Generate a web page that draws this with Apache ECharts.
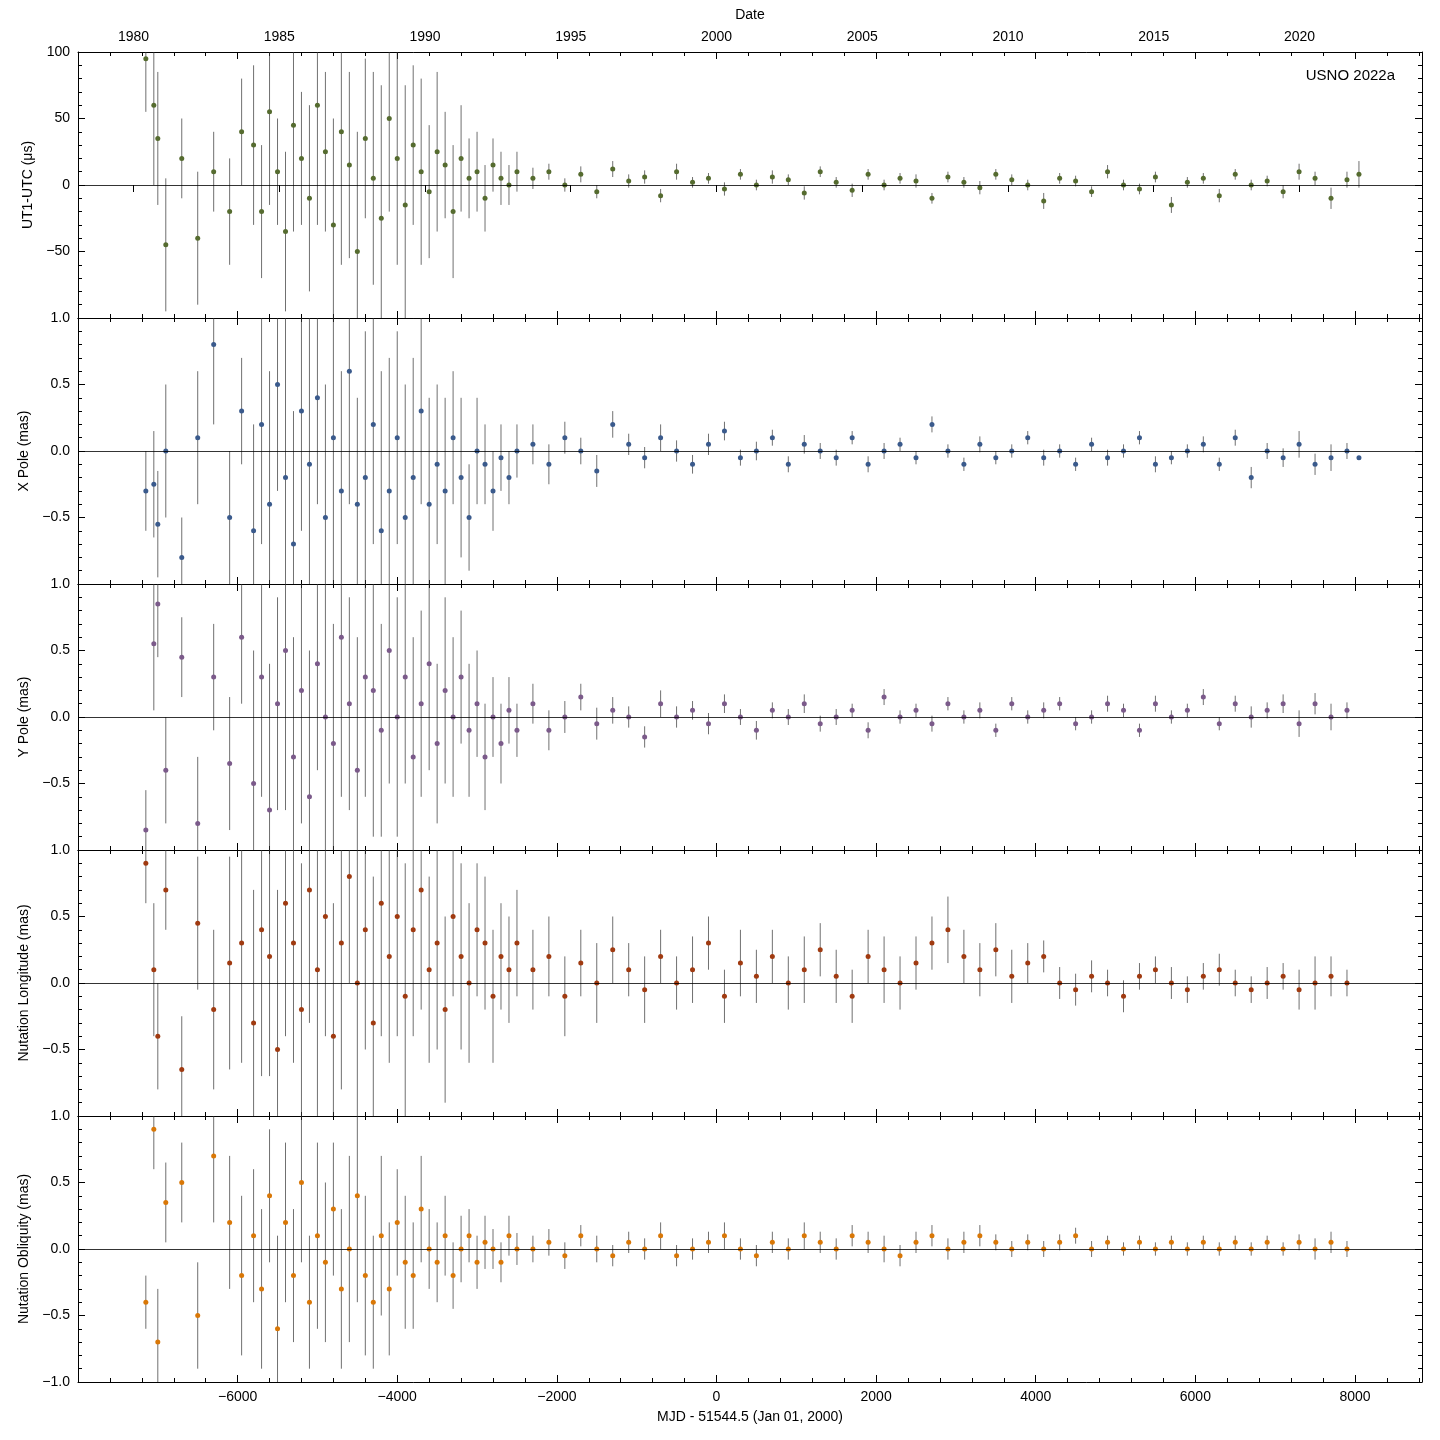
<!DOCTYPE html>
<html>
<head>
<meta charset="utf-8">
<script src="https://cdn.jsdelivr.net/npm/echarts@6/dist/echarts.min.js"></script>
<style>html,body{margin:0;padding:0;background:#fff}#chart{width:1440px;height:1440px}</style>
</head>
<body>
<div id="chart"></div>
<script>
// MJD - 51544.5 sample epochs shared by every panel
const mjd = [-7150,-7050,-7000,-6900,-6700,-6500,-6300,-6100,-5950,
  -5800,-5700,-5600,-5500,-5400,-5300,-5200,-5100,-5000,-4900,-4800,-4700,-4600,-4500,-4400,-4300,-4200,-4100,-4000,-3900,-3800,-3700,-3600,-3500,-3400,-3300,-3200,-3100,-3000,-2900,-2800,-2700,-2600,-2500,
  -2300,-2100,-1900,-1700,-1500,-1300,-1100,-900,-700,-500,-300,-100,100,300,500,700,900,1100,1300,1500,1700,1900,2100,2300,2500,2700,2900,3100,3300,3500,3700,3900,4100,4300,4500,4700,4900,5100,5300,5500,5700,5900,6100,6300,6500,6700,6900,7100,7300,7500,7700,7900,8050];

const ut1Val = [95,60,35,-45,20,-40,10,-20,40,
  30,-20,55,10,-35,45,20,-10,60,25,-30,40,15,-50,35,5,-25,50,20,-15,30,10,-5,25,15,-20,20,5,10,-10,15,5,0,10,
  5,10,0,8,-5,12,3,6,-8,10,2,5,-3,8,0,6,4,-6,10,2,-4,8,0,5,3,-10,6,2,-2,8,4,0,-12,5,3,-5,10,0,-3,6,-15,2,5,-8,8,0,3,-5,10,5,-10,4,8];
const ut1Err = [40,60,50,50,30,50,30,40,40,
  60,50,70,40,60,80,50,70,90,60,80,100,70,90,60,80,100,70,80,90,60,70,50,60,40,50,40,30,30,25,20,20,15,15,
  8,6,5,6,5,6,5,5,5,6,4,4,5,4,4,5,4,5,4,4,5,4,4,4,5,4,4,4,5,4,4,4,6,4,4,4,5,4,4,4,6,4,4,5,4,4,4,5,6,5,8,6,10];

const xpVal = [-0.3,-0.25,-0.55,0.0,-0.8,0.1,0.8,-0.5,0.3,
  -0.6,0.2,-0.4,0.5,-0.2,-0.7,0.3,-0.1,0.4,-0.5,0.1,-0.3,0.6,-0.4,-0.2,0.2,-0.6,-0.3,0.1,-0.5,-0.2,0.3,-0.4,-0.1,-0.3,0.1,-0.2,-0.5,0.0,-0.1,-0.3,-0.05,-0.2,0.0,
  0.05,-0.1,0.1,0.0,-0.15,0.2,0.05,-0.05,0.1,0.0,-0.1,0.05,0.15,-0.05,0.0,0.1,-0.1,0.05,0.0,-0.05,0.1,-0.1,0.0,0.05,-0.05,0.2,0.0,-0.1,0.05,-0.05,0.0,0.1,-0.05,0.0,-0.1,0.05,-0.05,0.0,0.1,-0.1,-0.05,0.0,0.05,-0.1,0.1,-0.2,0.0,-0.05,0.05,-0.1,-0.05,0.0,-0.05];
const xpErr = [0.3,0.4,0.4,0.5,0.3,0.5,0.6,0.5,0.4,
  0.8,0.9,1.0,0.8,1.2,1.0,0.9,1.1,0.8,1.0,1.2,0.9,1.0,0.8,1.1,0.9,1.2,1.0,0.8,1.0,0.9,0.7,0.8,0.6,0.7,0.5,0.6,0.4,0.4,0.3,0.3,0.25,0.2,0.2,
  0.15,0.15,0.12,0.1,0.12,0.1,0.08,0.08,0.1,0.08,0.07,0.08,0.07,0.06,0.07,0.06,0.06,0.07,0.06,0.06,0.05,0.06,0.06,0.05,0.05,0.06,0.05,0.05,0.06,0.05,0.05,0.05,0.06,0.05,0.05,0.05,0.06,0.05,0.05,0.06,0.05,0.05,0.06,0.05,0.06,0.08,0.06,0.07,0.1,0.08,0.1,0.06];

const ypVal = [-0.85,0.55,0.85,-0.4,0.45,-0.8,0.3,-0.35,0.6,
  -0.5,0.3,-0.7,0.1,0.5,-0.3,0.2,-0.6,0.4,0.0,-0.2,0.6,0.1,-0.4,0.3,0.2,-0.1,0.5,0.0,0.3,-0.3,0.1,0.4,-0.2,0.2,0.0,0.3,-0.1,0.1,-0.3,0.0,-0.2,0.05,-0.1,
  0.1,-0.1,0.0,0.15,-0.05,0.05,0.0,-0.15,0.1,0.0,0.05,-0.05,0.1,0.0,-0.1,0.05,0.0,0.1,-0.05,0.0,0.05,-0.1,0.15,0.0,0.05,-0.05,0.1,0.0,0.05,-0.1,0.1,0.0,0.05,0.1,-0.05,0.0,0.1,0.05,-0.1,0.1,0.0,0.05,0.15,-0.05,0.1,0.0,0.05,0.1,-0.05,0.1,0.0,0.05];
const ypErr = [0.3,0.5,0.4,0.4,0.3,0.5,0.4,0.5,0.5,
  1.0,0.9,1.1,0.8,1.2,0.9,1.0,1.1,0.8,1.0,0.9,1.2,0.8,1.0,0.9,1.1,0.8,1.0,0.9,0.8,0.9,0.7,0.8,0.6,0.7,0.6,0.5,0.5,0.4,0.4,0.3,0.3,0.25,0.2,
  0.15,0.15,0.12,0.1,0.12,0.1,0.08,0.08,0.1,0.08,0.07,0.08,0.07,0.06,0.07,0.06,0.06,0.07,0.06,0.06,0.05,0.06,0.06,0.05,0.05,0.06,0.05,0.05,0.06,0.05,0.05,0.05,0.06,0.05,0.05,0.05,0.06,0.05,0.05,0.06,0.05,0.05,0.06,0.05,0.06,0.08,0.06,0.07,0.1,0.08,0.1,0.06];

const nlVal = [0.9,0.1,-0.4,0.7,-0.65,0.45,-0.2,0.15,0.3,
  -0.3,0.4,0.2,-0.5,0.6,0.3,-0.2,0.7,0.1,0.5,-0.4,0.3,0.8,0.0,0.4,-0.3,0.6,0.2,0.5,-0.1,0.4,0.7,0.1,0.3,-0.2,0.5,0.2,0.0,0.4,0.3,-0.1,0.2,0.1,0.3,
  0.1,0.2,-0.1,0.15,0.0,0.25,0.1,-0.05,0.2,0.0,0.1,0.3,-0.1,0.15,0.05,0.2,0.0,0.1,0.25,0.05,-0.1,0.2,0.1,0.0,0.15,0.3,0.4,0.2,0.1,0.25,0.05,0.15,0.2,0.0,-0.05,0.05,0.0,-0.1,0.05,0.1,0.0,-0.05,0.05,0.1,0.0,-0.05,0.0,0.05,-0.05,0.0,0.05,0.0];
const nlErr = [0.3,0.5,0.4,0.3,0.4,0.5,0.6,0.8,0.9,
  1.0,1.1,0.9,1.2,1.0,0.9,1.1,1.0,1.2,0.9,1.0,1.1,0.8,1.0,0.9,1.1,1.0,0.8,0.9,1.0,0.8,0.9,0.7,0.8,0.7,0.6,0.7,0.6,0.5,0.5,0.5,0.4,0.4,0.4,
  0.3,0.3,0.3,0.25,0.3,0.25,0.2,0.25,0.2,0.2,0.25,0.2,0.2,0.25,0.2,0.2,0.2,0.25,0.2,0.2,0.2,0.2,0.25,0.2,0.2,0.2,0.25,0.2,0.2,0.2,0.2,0.15,0.12,0.12,0.12,0.12,0.1,0.12,0.1,0.1,0.12,0.1,0.1,0.12,0.1,0.1,0.12,0.1,0.15,0.2,0.15,0.1];

const noVal = [-0.4,0.9,-0.7,0.35,0.5,-0.5,0.7,0.2,-0.2,
  0.1,-0.3,0.4,-0.6,0.2,-0.2,0.5,-0.4,0.1,-0.1,0.3,-0.3,0.0,0.4,-0.2,-0.4,0.1,-0.3,0.2,-0.1,-0.2,0.3,0.0,-0.1,0.1,-0.2,0.0,0.1,-0.1,0.05,0.0,-0.1,0.1,0.0,
  0.0,0.05,-0.05,0.1,0.0,-0.05,0.05,0.0,0.1,-0.05,0.0,0.05,0.1,0.0,-0.05,0.05,0.0,0.1,0.05,0.0,0.1,0.05,0.0,-0.05,0.05,0.1,0.0,0.05,0.1,0.05,0.0,0.05,0.0,0.05,0.1,0.0,0.05,0.0,0.05,0.0,0.05,0.0,0.05,0.0,0.05,0.0,0.05,0.0,0.05,0.0,0.05,0.0];
const noErr = [0.2,0.3,0.4,0.3,0.3,0.4,0.5,0.5,0.6,
  0.5,0.6,0.5,0.7,0.6,0.5,0.6,0.5,0.7,0.6,0.5,0.6,0.7,0.8,0.6,0.5,0.6,0.5,0.4,0.5,0.4,0.4,0.3,0.3,0.3,0.25,0.25,0.2,0.2,0.2,0.15,0.15,0.15,0.12,
  0.1,0.1,0.1,0.08,0.1,0.08,0.08,0.08,0.1,0.08,0.08,0.08,0.1,0.08,0.08,0.08,0.08,0.1,0.08,0.08,0.08,0.08,0.1,0.08,0.08,0.08,0.08,0.08,0.08,0.06,0.06,0.06,0.06,0.06,0.06,0.06,0.05,0.05,0.05,0.05,0.05,0.05,0.05,0.05,0.05,0.05,0.05,0.05,0.06,0.08,0.08,0.06];

const panels = [
  {name: 'UT1-UTC (μs)', val: ut1Val, err: ut1Err, color: '#556b2f', min: -100, max: 100, interval: 50},
  {name: 'X Pole (mas)', val: xpVal, err: xpErr, color: '#3a5a8c', min: -1, max: 1, interval: 0.5},
  {name: 'Y Pole (mas)', val: ypVal, err: ypErr, color: '#7b5a8a', min: -1, max: 1, interval: 0.5},
  {name: 'Nutation Longitude (mas)', val: nlVal, err: nlErr, color: '#a03a10', min: -1, max: 1, interval: 0.5},
  {name: 'Nutation Obliquity (mas)', val: noVal, err: noErr, color: '#d97706', min: -1, max: 1, interval: 0.5}
];
const years = [1980, 1985, 1990, 1995, 2000, 2005, 2010, 2015, 2020];

const font = 'Liberation Sans, Arial, sans-serif';
const xMin = -8000, xMax = 8840;
const tops = [52, 318, 584, 850, 1116];
const H = 266;

const chart = echarts.init(document.getElementById('chart'));
const grids = [], xAxes = [], yAxes = [], series = [];

function fmtY(p, v) {
  const last = p === panels.length - 1;
  if (v === panels[p].min && !last) return '';
  const s = panels[p].interval >= 1 ? String(Math.abs(v)) : Math.abs(v).toFixed(1);
  return (v < 0 ? '−' : '') + s;
}

panels.forEach((p, i) => {
  grids.push({left: 78, right: 18, top: tops[i], height: H});
  const last = i === panels.length - 1;
  const tickCommon = {inside: true, length: 7, lineStyle: {color: '#000'}};
  const minor = {show: true, splitNumber: 5, length: 4, lineStyle: {color: '#000'}};
  xAxes.push({
    type: 'value', gridIndex: i, position: 'bottom', min: xMin, max: xMax, interval: 2000,
    axisLine: {show: true, onZero: false, lineStyle: {color: '#000'}},
    axisTick: tickCommon, minorTick: minor, splitLine: {show: false},
    axisLabel: {show: last, color: '#000', fontSize: 14, fontFamily: font, margin: 8,
      formatter: v => (v < 0 ? '−' : '') + Math.abs(v), showMinLabel: false, showMaxLabel: false},
    name: last ? 'MJD - 51544.5 (Jan 01, 2000)' : '', nameLocation: 'middle', nameGap: 28,
    nameTextStyle: {color: '#000', fontSize: 14, fontFamily: font}
  });
  xAxes.push({
    type: 'value', gridIndex: i, position: 'top', min: xMin, max: xMax, interval: 2000,
    axisLine: {show: true, onZero: false, lineStyle: {color: '#000'}},
    axisTick: tickCommon, minorTick: minor, splitLine: {show: false}, axisLabel: {show: false}
  });
  yAxes.push({
    type: 'value', gridIndex: i, position: 'left', min: p.min, max: p.max, interval: p.interval,
    axisLine: {show: true, onZero: false, lineStyle: {color: '#000'}},
    axisTick: tickCommon, minorTick: minor, splitLine: {show: false},
    axisLabel: {color: '#000', fontSize: 14, fontFamily: font, margin: 8, formatter: v => fmtY(i, v)},
    name: p.name, nameLocation: 'middle', nameGap: p.interval >= 1 ? 42 : 45, nameRotate: 90,
    nameTextStyle: {color: '#000', fontSize: 14, fontFamily: font}
  });
  yAxes.push({
    type: 'value', gridIndex: i, position: 'right', min: p.min, max: p.max, interval: p.interval,
    axisLine: {show: true, onZero: false, lineStyle: {color: '#000'}},
    axisTick: tickCommon, minorTick: minor, splitLine: {show: false}, axisLabel: {show: false}
  });
  const data = mjd.map((x, k) => [x, p.val[k], p.err[k]]);
  series.push({
    type: 'custom', xAxisIndex: 2 * i, yAxisIndex: 2 * i, clip: true, silent: true,
    renderItem: (params, api) => {
      const x = api.value(0), y = api.value(1), e = api.value(2);
      const a = api.coord([x, y - e]), b = api.coord([x, y + e]);
      return {type: 'line', shape: {x1: a[0], y1: a[1], x2: b[0], y2: b[1]},
        style: {stroke: '#333', lineWidth: 1, opacity: 0.7}};
    },
    data: data, z: 1
  });
  series.push({
    type: 'scatter', xAxisIndex: 2 * i, yAxisIndex: 2 * i, symbolSize: 5, clip: true,
    itemStyle: {color: p.color, opacity: 1}, data: data.map(d => [d[0], d[1]]), z: 3,
    markLine: {silent: true, symbol: 'none', label: {show: false},
      lineStyle: {color: '#000', width: 0.8, type: 'solid'}, data: [{yAxis: 0}]}
  });
});

xAxes.push({
  type: 'value', gridIndex: 0, position: 'top', offset: 0,
  min: 2000 + xMin / 365.25, max: 2000 + xMax / 365.25,
  axisLine: {show: false}, splitLine: {show: false},
  axisTick: {inside: true, length: 7, customValues: years, lineStyle: {color: '#000'}},
  axisLabel: {color: '#000', fontSize: 14, fontFamily: font, margin: 8, customValues: years,
    formatter: v => String(v)},
  name: 'Date', nameLocation: 'middle', nameGap: 30,
  nameTextStyle: {color: '#000', fontSize: 14, fontFamily: font}
});

chart.setOption({
  animation: false,
  backgroundColor: '#fff',
  grid: grids, xAxis: xAxes, yAxis: yAxes, series: series,
  graphic: [{type: 'text', right: 45, top: 68,
    style: {text: 'USNO 2022a', fill: '#000', font: '15px ' + font}}]
});
</script>
</body>
</html>
